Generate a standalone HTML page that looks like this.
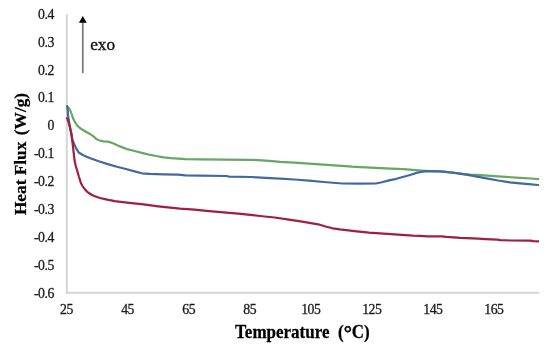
<!DOCTYPE html>
<html><head><meta charset="utf-8"><style>
html,body{margin:0;padding:0;background:#fff;}
body{width:550px;height:352px;overflow:hidden;}
svg{display:block;filter:blur(0.3px);}
.t{font-family:"Liberation Serif",serif;font-size:14.2px;fill:#1a1a1a;stroke:#1a1a1a;stroke-width:0.3;letter-spacing:-0.5px;}
.exo{font-family:"Liberation Serif",serif;font-size:17.3px;fill:#111;stroke:#111;stroke-width:0.35;}
.ttl{font-family:"Liberation Serif",serif;font-size:17px;font-weight:bold;fill:#000;stroke:#000;stroke-width:0.25;white-space:pre;}
</style></head><body>
<svg width="550" height="352" viewBox="0 0 550 352">
<line x1="66.8" y1="14.1" x2="66.8" y2="293.59999999999997" stroke="#d5d5d5" stroke-width="2"/>
<line x1="65.89999999999999" y1="292.7" x2="539.4" y2="292.7" stroke="#d5d5d5" stroke-width="2"/>
<text transform="translate(53.8,18.90) scale(0.97,1)" text-anchor="end" class="t">0.4</text>
<text transform="translate(53.8,46.76) scale(0.97,1)" text-anchor="end" class="t">0.3</text>
<text transform="translate(53.8,74.62) scale(0.97,1)" text-anchor="end" class="t">0.2</text>
<text transform="translate(53.8,102.48) scale(0.97,1)" text-anchor="end" class="t">0.1</text>
<text transform="translate(53.8,130.34) scale(0.97,1)" text-anchor="end" class="t">0</text>
<text transform="translate(53.8,158.20) scale(0.97,1)" text-anchor="end" class="t">-0.1</text>
<text transform="translate(53.8,186.06) scale(0.97,1)" text-anchor="end" class="t">-0.2</text>
<text transform="translate(53.8,213.92) scale(0.97,1)" text-anchor="end" class="t">-0.3</text>
<text transform="translate(53.8,241.78) scale(0.97,1)" text-anchor="end" class="t">-0.4</text>
<text transform="translate(53.8,269.64) scale(0.97,1)" text-anchor="end" class="t">-0.5</text>
<text transform="translate(53.8,297.50) scale(0.97,1)" text-anchor="end" class="t">-0.6</text>
<text transform="translate(66.50,313.9) scale(0.97,1)" text-anchor="middle" class="t">25</text>
<text transform="translate(127.56,313.9) scale(0.97,1)" text-anchor="middle" class="t">45</text>
<text transform="translate(188.62,313.9) scale(0.97,1)" text-anchor="middle" class="t">65</text>
<text transform="translate(249.68,313.9) scale(0.97,1)" text-anchor="middle" class="t">85</text>
<text transform="translate(310.74,313.9) scale(0.97,1)" text-anchor="middle" class="t">105</text>
<text transform="translate(371.80,313.9) scale(0.97,1)" text-anchor="middle" class="t">125</text>
<text transform="translate(432.86,313.9) scale(0.97,1)" text-anchor="middle" class="t">145</text>
<text transform="translate(493.92,313.9) scale(0.97,1)" text-anchor="middle" class="t">165</text>
<polyline points="67.4,107.3 68.8,108.2 70.0,109.8 70.9,112.0 71.9,115.0 73.4,119.1 75.0,122.2 76.8,124.9 78.8,127.1 81.3,129.0 85.5,131.5 90.4,134.2 93.5,136.4 96.4,139.1 99.5,140.5 103.6,141.3 107.6,141.7 110.0,142.2 113.5,143.6 117.3,145.2 120.0,146.4 127.0,149.1 134.5,151.0 141.8,152.9 149.1,154.6 156.0,156.0 163.6,157.3 171.0,158.1 178.2,158.7 185.5,159.2 200.0,159.3 225.0,159.6 250.9,159.8 258.0,160.1 265.5,160.6 272.0,161.2 280.0,161.9 294.5,162.7 309.0,163.6 323.6,164.6 338.2,165.7 352.0,166.7 360.0,167.1 376.0,167.9 390.9,168.6 403.6,169.2 412.7,169.9 421.1,170.5 430.0,171.0 441.0,171.4 452.0,172.5 463.0,173.9 470.0,174.5 476.4,174.9 490.9,175.9 505.5,176.9 520.0,177.8 531.4,178.5 538.2,179.1" fill="none" stroke="#67a763" stroke-width="2.2" stroke-linejoin="round" stroke-linecap="round"/>
<polyline points="67.3,106.2 67.7,110.0 68.1,116.0 68.9,121.0 70.0,127.4 71.4,134.0 72.3,139.3 73.4,142.3 74.8,145.4 76.2,148.4 78.7,152.5 83.3,155.3 89.6,158.0 98.7,161.3 107.8,164.1 116.9,166.8 126.0,169.0 134.5,171.4 141.8,173.3 150.0,173.9 163.6,174.3 178.2,174.7 185.5,175.3 200.0,175.6 226.2,176.0 229.0,176.6 250.9,177.0 265.5,177.9 280.0,178.6 294.5,179.5 309.0,180.6 323.6,182.0 336.0,183.0 342.5,183.5 360.0,183.6 376.0,183.5 381.8,182.2 389.0,180.4 396.4,178.8 403.6,176.8 410.9,174.7 416.5,172.9 421.1,171.9 426.9,171.2 440.0,171.4 454.5,172.9 469.1,175.1 483.6,177.8 498.2,180.5 510.0,182.3 520.0,183.4 531.4,184.4 538.2,185.0" fill="none" stroke="#42699f" stroke-width="2.2" stroke-linejoin="round" stroke-linecap="round"/>
<polyline points="67.1,118.3 68.5,122.0 70.0,127.4 71.4,134.0 72.5,142.5 73.6,152.0 74.5,160.0 75.6,165.5 77.4,171.4 79.0,177.0 80.8,182.7 82.5,186.0 84.2,188.5 86.5,191.1 88.7,193.0 92.0,195.0 95.5,196.5 100.0,198.0 106.0,199.3 110.0,200.2 114.5,201.1 129.1,202.9 143.6,204.4 158.2,206.3 180.0,208.7 194.5,209.7 209.1,211.1 223.6,212.4 238.2,213.7 252.7,215.1 260.0,216.0 274.5,217.5 289.1,219.6 303.6,221.8 318.2,224.3 325.5,226.5 332.7,228.3 340.0,229.4 354.5,231.1 369.1,232.6 383.6,233.7 398.2,234.7 412.7,235.7 420.0,235.9 427.3,236.4 441.8,236.3 446.2,236.9 460.7,237.9 478.2,238.7 485.5,239.1 497.5,239.7 500.0,240.1 511.4,240.5 530.0,240.6 533.5,241.2 538.2,241.3" fill="none" stroke="#a11f3c" stroke-width="2.2" stroke-linejoin="round" stroke-linecap="round"/>
<line x1="82.8" y1="21" x2="82.8" y2="73.2" stroke="#808080" stroke-width="1.8"/>
<polygon points="82.8,15.9 78.9,22.7 86.7,22.7" fill="#000"/>
<text x="90.2" y="49.8" class="exo">exo</text>
<text transform="translate(235.1,337.9) scale(1,1.05)" class="ttl">Temperature  (<tspan style="font-size:20.5px;stroke:#000;stroke-width:0.5" dy="2.3">°</tspan><tspan dy="-2.3">C)</tspan></text>
<text transform="translate(25.6,154.0) rotate(-90)" text-anchor="middle" class="ttl" style="font-size:17.3px">Heat Flux <tspan dx="2.2">(W/g)</tspan></text>
</svg>
</body></html>
